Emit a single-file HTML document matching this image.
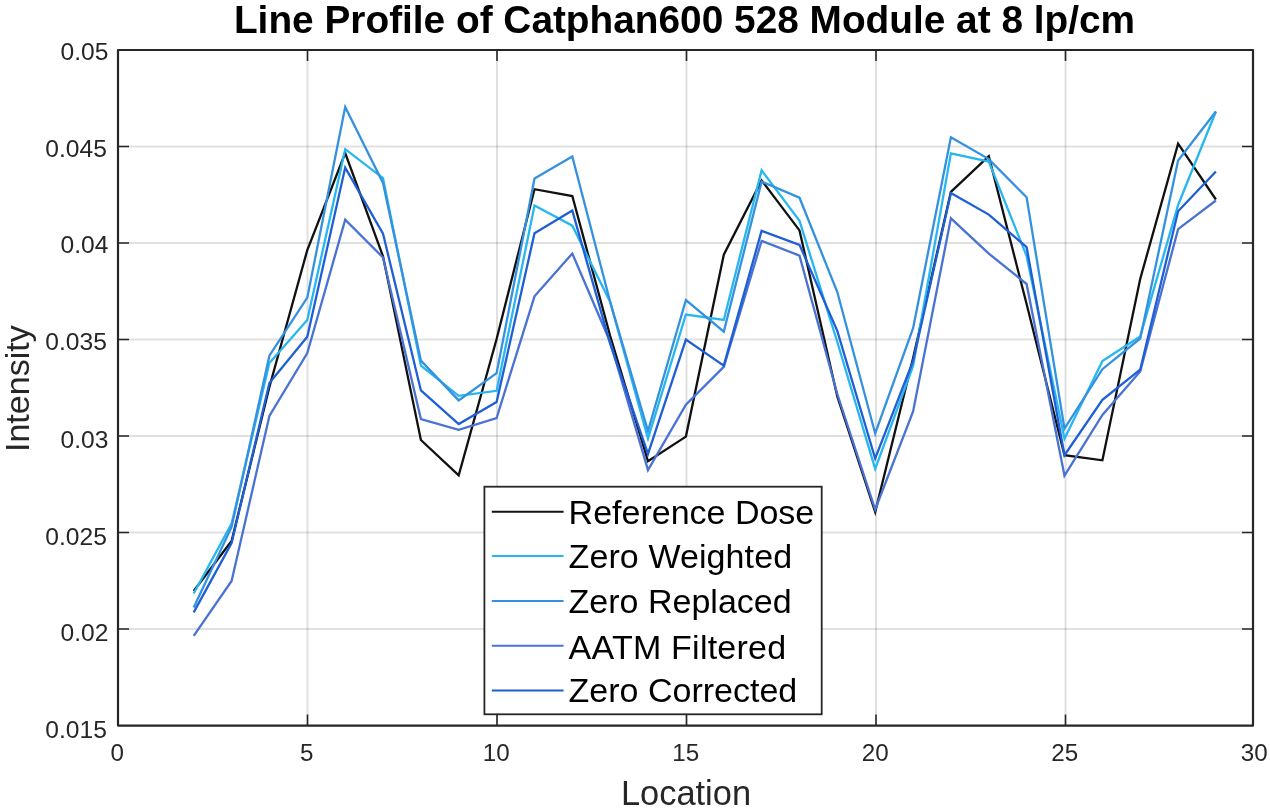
<!DOCTYPE html>
<html lang="en"><head><meta charset="utf-8"><title>Line Profile of Catphan600 528 Module at 8 lp/cm</title>
<style>html,body{margin:0;padding:0;background:#fff}body{width:1270px;height:811px;overflow:hidden}svg{display:block}text{font-family:"Liberation Sans",Arial,Helvetica,sans-serif}</style></head><body>
<svg width="1270" height="811" viewBox="0 0 1270 811">
<rect width="1270" height="811" fill="#fff"/>
<path d="M307.5 50.0V725.6 M497.0 50.0V725.6 M686.5 50.0V725.6 M876.0 50.0V725.6 M1065.5 50.0V725.6" stroke="#000" stroke-opacity="0.12" stroke-width="2" fill="none"/>
<path d="M118.0 146.5H1253.0 M118.0 243.0H1253.0 M118.0 339.5H1253.0 M118.0 436.0H1253.0 M118.0 532.5H1253.0 M118.0 629.0H1253.0" stroke="#000" stroke-opacity="0.12" stroke-width="2" fill="none"/>
<polyline points="193.7,591.0 231.6,541.0 269.4,387.0 307.3,250.0 345.2,153.0 383.0,256.3 420.9,440.0 458.7,475.3 496.6,339.0 534.5,189.2 572.3,196.0 610.2,336.0 648.0,461.3 685.9,436.6 723.8,254.7 761.6,180.4 799.5,230.4 837.3,396.4 875.2,512.0 913.1,358.0 950.9,191.9 988.8,156.1 1026.6,304.0 1064.5,455.2 1102.4,460.3 1140.2,279.0 1178.1,143.6 1215.9,199.5" fill="none" stroke="#101010" stroke-width="2.3" stroke-linejoin="miter" stroke-linecap="butt"/>
<polyline points="193.7,593.5 231.6,523.5 269.4,363.0 307.3,320.0 345.2,149.2 383.0,178.2 420.9,365.7 458.7,395.9 496.6,390.8 534.5,205.6 572.3,225.7 610.2,302.0 648.0,438.7 685.9,314.5 723.8,320.0 761.6,170.3 799.5,220.9 837.3,342.0 875.2,468.9 913.1,366.0 950.9,153.3 988.8,161.6 1026.6,256.0 1064.5,438.8 1102.4,361.0 1140.2,336.4 1178.1,205.0 1215.9,111.5" fill="none" stroke="#27b7f0" stroke-width="2.3" stroke-linejoin="miter" stroke-linecap="butt"/>
<polyline points="193.7,607.4 231.6,527.0 269.4,355.6 307.3,297.6 345.2,107.1 383.0,183.0 420.9,360.6 458.7,400.4 496.6,373.1 534.5,178.6 572.3,156.5 610.2,302.0 648.0,431.0 685.9,300.0 723.8,331.6 761.6,181.6 799.5,197.7 837.3,292.0 875.2,433.5 913.1,328.2 950.9,137.2 988.8,159.1 1026.6,197.3 1064.5,428.6 1102.4,369.2 1140.2,338.5 1178.1,160.6 1215.9,111.5" fill="none" stroke="#3491e0" stroke-width="2.3" stroke-linejoin="miter" stroke-linecap="butt"/>
<polyline points="193.7,635.9 231.6,581.0 269.4,416.0 307.3,353.0 345.2,219.8 383.0,257.5 420.9,419.1 458.7,429.9 496.6,418.0 534.5,296.3 572.3,253.5 610.2,342.0 648.0,470.1 685.9,404.6 723.8,366.8 761.6,240.9 799.5,255.6 837.3,394.0 875.2,509.5 913.1,411.5 950.9,218.3 988.8,253.6 1026.6,284.0 1064.5,475.7 1102.4,415.0 1140.2,371.5 1178.1,229.2 1215.9,200.5" fill="none" stroke="#4a72d2" stroke-width="2.3" stroke-linejoin="miter" stroke-linecap="butt"/>
<polyline points="193.7,612.4 231.6,543.0 269.4,383.0 307.3,336.7 345.2,167.6 383.0,233.6 420.9,390.4 458.7,424.1 496.6,402.1 534.5,233.3 572.3,210.6 610.2,344.0 648.0,453.8 685.9,339.6 723.8,365.6 761.6,230.8 799.5,244.8 837.3,330.8 875.2,458.5 913.1,361.0 950.9,193.1 988.8,214.6 1026.6,247.2 1064.5,455.2 1102.4,399.9 1140.2,369.7 1178.1,211.2 1215.9,171.5" fill="none" stroke="#1f5fd6" stroke-width="2.3" stroke-linejoin="miter" stroke-linecap="butt"/>
<rect x="118.0" y="50.0" width="1135.0" height="675.6" fill="none" stroke="#262626" stroke-width="2.2" stroke-linejoin="round"/>
<path d="M307.5 725.6v-11M307.5 50.0v11 M497.0 725.6v-11M497.0 50.0v11 M686.5 725.6v-11M686.5 50.0v11 M876.0 725.6v-11M876.0 50.0v11 M1065.5 725.6v-11M1065.5 50.0v11 M118.0 146.5h11M1253.0 146.5h-11 M118.0 243.0h11M1253.0 243.0h-11 M118.0 339.5h11M1253.0 339.5h-11 M118.0 436.0h11M1253.0 436.0h-11 M118.0 532.5h11M1253.0 532.5h-11 M118.0 629.0h11M1253.0 629.0h-11" stroke="#262626" stroke-width="1.6" fill="none"/>
<g font-size="24.2" fill="#262626" text-anchor="middle">
<text x="117.3" y="761">0</text>
<text x="306.8" y="761">5</text>
<text x="496.3" y="761">10</text>
<text x="685.8" y="761">15</text>
<text x="875.3" y="761">20</text>
<text x="1064.8" y="761">25</text>
<text x="1254.3" y="761">30</text>
</g>
<g font-size="24.6" fill="#262626" text-anchor="end">
<text x="108.4" y="59.7">0.05</text>
<text x="106.9" y="156.7">0.045</text>
<text x="108.4" y="252.7">0.04</text>
<text x="106.9" y="349.6">0.035</text>
<text x="108.4" y="448.2">0.03</text>
<text x="106.9" y="544.7">0.025</text>
<text x="108.4" y="641.2">0.02</text>
<text x="106.9" y="737.5">0.015</text>
</g>
<text x="686" y="805" font-size="34.4" fill="#262626" text-anchor="middle">Location</text>
<text transform="translate(29.3 388.6) rotate(-90)" font-size="34.1" fill="#262626" text-anchor="middle">Intensity</text>
<text x="684.5" y="32.6" font-size="38.8" font-weight="bold" fill="#000" text-anchor="middle">Line Profile of Catphan600 528 Module at 8 lp/cm</text>
<rect x="484.4" y="486.7" width="337.3" height="227.6" fill="#fff" stroke="#262626" stroke-width="1.8"/>
<path d="M491.8 511.7H563.6" stroke="#101010" stroke-width="2"/>
<text x="568.6" y="523.8" font-size="34" fill="#000">Reference Dose</text>
<path d="M491.8 555.9H563.6" stroke="#27b7f0" stroke-width="2"/>
<text x="568.6" y="568.0" font-size="34" fill="#000" letter-spacing="0.09">Zero Weighted</text>
<path d="M491.8 601.0H563.6" stroke="#3491e0" stroke-width="2"/>
<text x="568.6" y="612.8" font-size="34" fill="#000">Zero Replaced</text>
<path d="M491.8 645.7H563.6" stroke="#4a72d2" stroke-width="2"/>
<text x="568.6" y="658.6" font-size="34" fill="#000" letter-spacing="0.23">AATM Filtered</text>
<path d="M491.8 690.6H563.6" stroke="#1f5fd6" stroke-width="2"/>
<text x="568.6" y="702.2" font-size="34" fill="#000">Zero Corrected</text>
</svg></body></html>
